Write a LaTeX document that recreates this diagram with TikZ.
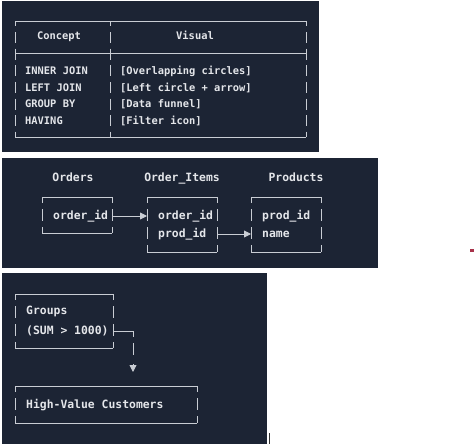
\documentclass[tikz,border=0pt]{standalone}
\usepackage{fontspec}
\setmonofont{DejaVu Sans Mono}
\usetikzlibrary{arrows.meta}
\definecolor{panel}{HTML}{1C2434}
\definecolor{ink}{HTML}{E4E6EA}
\definecolor{rule}{HTML}{C9CDD4}
\definecolor{redtick}{HTML}{A8324A}

% box with solid top/bottom and broken sides
\newcommand{\asciibox}[2]{%
  \draw [frame] (#1.north west) -- (#1.north east) (#1.south west) -- (#1.south east);
  \draw [frame,#2] (#1.north west) -- (#1.south west) (#1.north east) -- (#1.south east);}

\begin{document}
\begin{tikzpicture}[x=1pt,y=-1pt,
  txt/.style={text=ink,font=\ttfamily\bfseries\fontsize{10.4}{12}\selectfont,
    inner sep=0pt,text height=0.73em,text depth=0pt},
  big/.style={txt,font=\ttfamily\bfseries\fontsize{11.4}{13}\selectfont},
  frame/.style={draw=rule,line width=0.9pt},
  bars/.style={dash pattern=on 11pt off 5.6pt,dash phase=5.5pt},
  barsb/.style={dash pattern=on 12pt off 6pt,dash phase=6pt},
  box/.style={rectangle,inner sep=0pt,outer sep=0pt},
  tip/.style={-{Triangle[length=7pt,width=7pt]}}]
\useasboundingbox (0,0) rectangle (474,444);
\fill [panel] (2,1) rectangle (319,152);
\fill [panel] (2,158) rectangle (378,268);
\fill [panel] (2,273) rectangle (267,444);

% table
\node [box,minimum width=291pt,minimum height=116pt] (tbl) at (160.5,79) {};
\asciibox{tbl}{bars}
\coordinate (hsep) at (15,53);
\coordinate (csep) at (110,21);
\draw [frame] (hsep) -- (hsep -| tbl.east);
\draw [frame,bars] (csep) -- (csep |- tbl.south);
\node [txt] (concept) at (59,36) {Concept};
\node [txt] (visual) at (195,36) {Visual};
\node [txt,anchor=west] (innerjoin) at (25,71) {INNER JOIN};
\node [txt,anchor=west] (leftjoin) at (25,87.5) {LEFT JOIN};
\node [txt,anchor=west] (groupby) at (25,104) {GROUP BY};
\node [txt,anchor=west] (having) at (25,120.5) {HAVING};
\node [txt,anchor=west] (vinner) at (120,71) {[Overlapping circles]};
\node [txt,anchor=west] (vleft) at (120,87.5) {[Left circle + arrow]};
\node [txt,anchor=west] (vgroup) at (120,104) {[Data funnel]};
\node [txt,anchor=west] (vhaving) at (120,120.5) {[Filter icon]};

% tables and keys
\node [big] (orders) at (73,178) {Orders};
\node [big] (items) at (182,178) {Order\_Items};
\node [big] (products) at (296,178) {Products};
\node [box,minimum width=70pt,minimum height=36pt] (ordbox) at (77,215) {};
\node [box,minimum width=70pt,minimum height=55pt] (itembox) at (182,224.5) {};
\node [box,minimum width=70pt,minimum height=55pt] (prodbox) at (286,224.5) {};
\asciibox{ordbox}{barsb}
\asciibox{itembox}{barsb}
\asciibox{prodbox}{barsb}
\node [big,anchor=west] (ordid) at (53,216) {order\_id};
\node [big,anchor=west] (itemoid) at (158,216) {order\_id};
\node [big,anchor=west] (itempid) at (158,234) {prod\_id};
\node [big,anchor=west] (prodid) at (262,216) {prod\_id};
\node [big,anchor=west] (prodname) at (262,234) {name};
\draw [frame,tip] (ordbox.east |- ordid) -- (itembox.west |- ordid);
\draw [frame,tip] (itembox.east |- itempid) -- (prodbox.west |- itempid);

% filter
\node [box,minimum width=98pt,minimum height=54pt] (grpbox) at (64,321) {};
\node [box,minimum width=182pt,minimum height=37pt] (hvbox) at (106,404.5) {};
\asciibox{grpbox}{barsb}
\asciibox{hvbox}{barsb}
\node [big,anchor=west] (groups) at (26,311) {Groups};
\node [big,anchor=west] (sum) at (26,331) {(SUM > 1000)};
\node [big,anchor=west] (hv) at (26,405) {High-Value Customers};
\coordinate (bend) at (133,356);
\draw [frame] (grpbox.east |- sum) -- (sum -| bend);
\draw [frame,barsb] (sum -| bend) -- (bend);
\draw [frame,tip,shorten <=8pt,shorten >=14pt] (bend) -- (bend |- hvbox.north);

\fill [redtick] (470,249) rectangle (474,251.5);
\draw [black!80,line width=1pt] (269,433) -- (269,444);
\end{tikzpicture}
\end{document}
